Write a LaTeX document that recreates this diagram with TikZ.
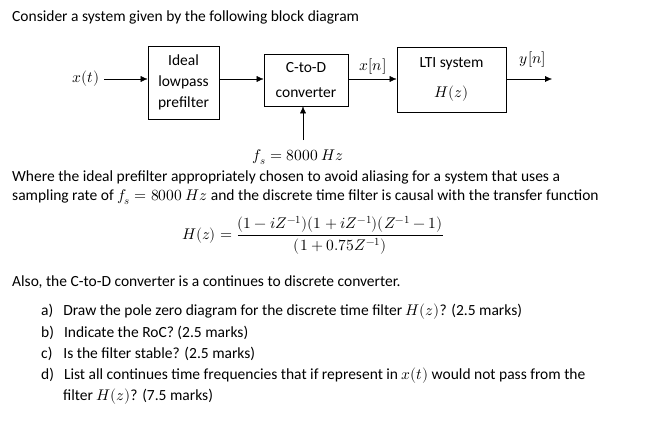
\documentclass[tikz,border=0pt]{standalone}
\usepackage{amsmath}
\usepackage{unicode-math}
\setmainfont{Carlito}
\setmathfont{Latin Modern Math}
\usetikzlibrary{positioning, arrows.meta}

\begin{document}
\begin{tikzpicture}
        [
          x=1pt, y=-1pt,
          block/.style={draw, thick, align=center, inner sep=0pt},
          big/.style={font=\fontsize{15.5}{18}\selectfont},
          txt/.style={anchor=west, inner sep=0pt, big},
          flow/.style={-{Latex[length=7pt,width=6pt]}}
        ]
        \useasboundingbox (0,0) rectangle (655,425);
        % heading
        \node [txt] (head) at (12,17) {Consider a system given by the following block diagram};
        % blocks
        \node [block, minimum width=71pt, minimum height=73pt, font=\fontsize{15.5}{21}\selectfont] (lpf) at (183.5,82.5) {Ideal\\lowpass\\prefilter};
        \node [block, minimum width=84pt, minimum height=52pt, font=\fontsize{15.5}{25}\selectfont] (ctod) at (306,80) {C-to-D\\converter};
        \node [block, minimum width=109pt, minimum height=65pt, font=\fontsize{15.5}{30}\selectfont] (lti) at (451.5,79.5) {LTI system\\$H(z)$};
        % signals
        \node [big] (x) at (86,79) {$x(t)$};
        \coordinate (xin) at (104,79);
        \coordinate (yout) at (552,79);
        \node [big] (y) at (533,60) {$y[n]$};
        \node [big] (xn) at (373,67) {$x[n]$};
        \node [big] (fs) at (298,157) {$f_s = 8000\ Hz$};
        \coordinate (fsin) at (303,140);
        % connectors
        \draw [flow] (xin) -- (lpf.west |- xin);
        \draw [flow] (lpf.east |- xin) -- (ctod.west |- xin);
        \draw [flow] (ctod.east |- xin) -- (lti.west |- xin);
        \draw [flow] (lti.east |- xin) -- (yout);
        \draw [flow] (fsin) -- (ctod.south -| fsin);
        % text
        \node [txt] (t1) at (12,177) {Where the ideal prefilter appropriately chosen to avoid aliasing for a system that uses a};
        \node [txt] (t2) at (12,197) {sampling rate of $f_s = 8000\ Hz$ and the discrete time filter is causal with the transfer function};
        \node [big] (eq) at (313,235) {$H(z) = \dfrac{(1-iZ^{-1})(1+iZ^{-1})(Z^{-1}-1)}{(1+0.75Z^{-1})}$};
        \node [txt] (t3) at (12,282) {Also, the C-to-D converter is a continues to discrete converter.};
        \node [txt] (qa) at (41,312) {a)\hspace{10pt}Draw the pole zero diagram for the discrete time filter $H(z)$? (2.5 marks)};
        \node [txt] (qb) at (41,333) {b)\hspace{10pt}Indicate the RoC? (2.5 marks)};
        \node [txt] (qc) at (41,354) {c)\hspace{11pt}Is the filter stable? (2.5 marks)};
        \node [txt] (qd) at (41,376) {d)\hspace{10pt}List all continues time frequencies that if represent in $x(t)$ would not pass from the};
        \node [txt] (qd2) at (63,397) {filter $H(z)$? (7.5 marks)};
      \end{tikzpicture}
\end{document}
